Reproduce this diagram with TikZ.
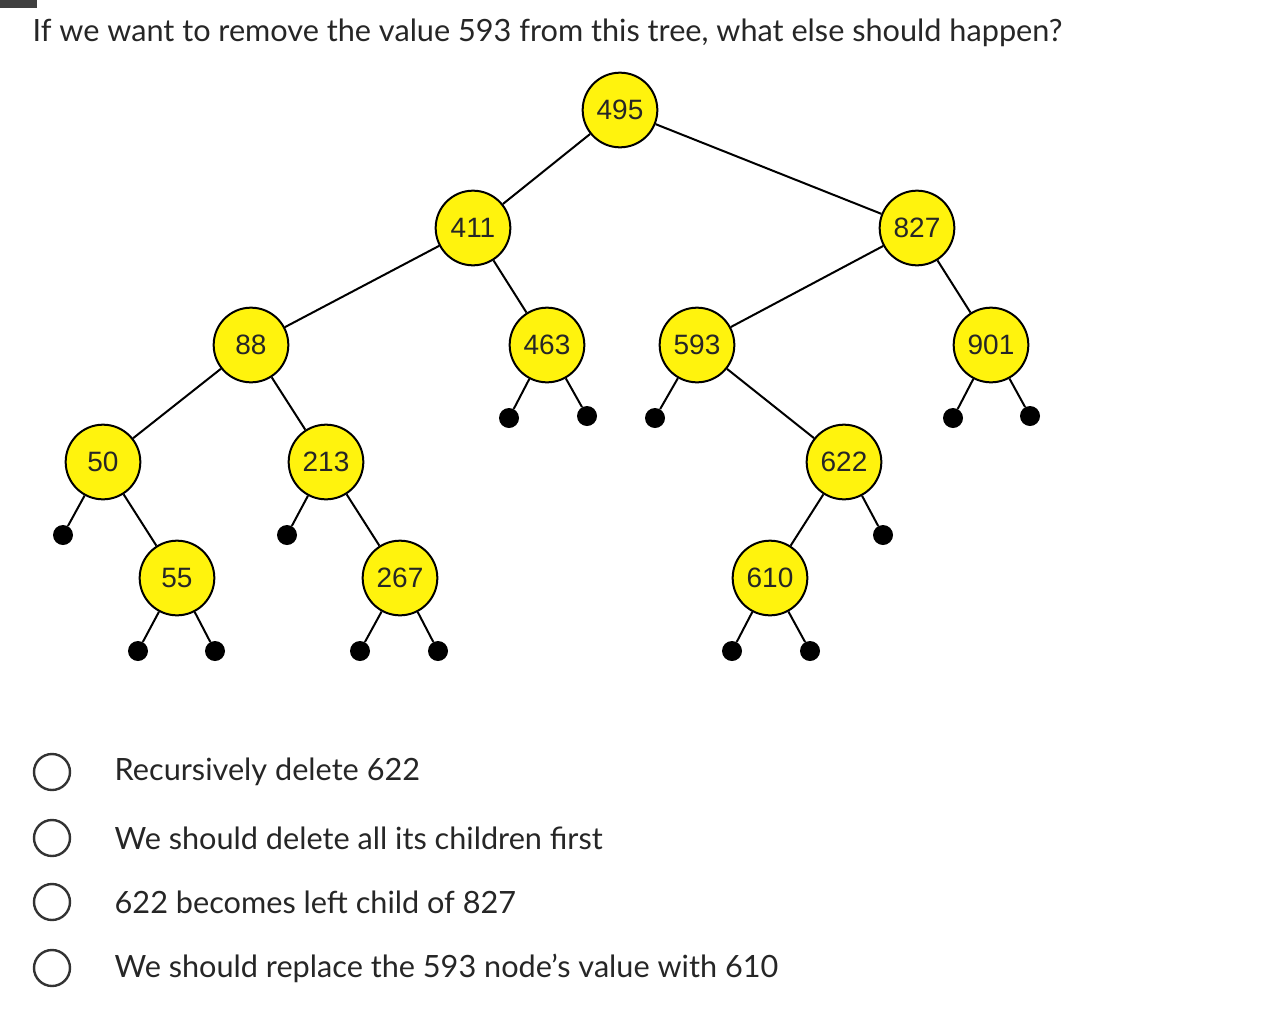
\documentclass[tikz,border=0pt]{standalone}
\usepackage{fontspec}
\setmainfont{Lato}
\newfontfamily\nodefont{Liberation Sans}
\begin{document}
\begin{tikzpicture}[x=0.75pt,y=-0.75pt,
  tn/.style={circle,draw=black,line width=1.5pt,fill=yellow!95!white,minimum size=56pt,inner sep=0pt,font=\nodefont\fontsize{21}{21}\selectfont,text=black!85},
  dot/.style={circle,fill=black,minimum size=15pt,inner sep=0pt},
  ed/.style={line width=1.5pt},
  opt/.style={circle,draw=black!80,line width=1.8pt,minimum size=27pt,inner sep=0pt},
  otext/.style={anchor=west,font=\fontsize{23}{23}\selectfont,text=black!85}]
\useasboundingbox (0,0) rectangle (1264,1018);
\fill[black!75] (0,0) rectangle (37,8);
\node[anchor=west,font=\fontsize{23}{23}\selectfont,text=black!85] (title) at (28,33) {If we want to remove the value 593 from this tree, what else should happen?};
\node[tn] (n495) at (620,110) {495};
\node[tn] (n411) at (473,228) {411};
\node[tn] (n827) at (917,228) {827};
\node[tn] (n88) at (251,345) {88};
\node[tn] (n463) at (547,345) {463};
\node[tn] (n593) at (697,345) {593};
\node[tn] (n901) at (991,345) {901};
\node[tn] (n50) at (103,462) {50};
\node[tn] (n213) at (326,462) {213};
\node[tn] (n622) at (844,462) {622};
\node[tn] (n55) at (177,578) {55};
\node[tn] (n267) at (400,578) {267};
\node[tn] (n610) at (770,578) {610};
\foreach \n/\x/\y in {d1/509/418,d2/587/416,d3/655/418,d4/953/418,d5/1030/416,d6/63/535,d7/287/535,d8/883/535,d9/138/651,d10/215/651,d11/360/651,d12/438/651,d13/732/651,d14/810/651}
  \node[dot] (\n) at (\x,\y) {};
\begin{scope}[on background layer/.try]
\end{scope}
\foreach \a/\b in {n495/n411,n495/n827,n411/n88,n411/n463,n827/n593,n827/n901,n88/n50,n88/n213,n593/n622,n50/n55,n213/n267,n622/n610,n463/d1,n463/d2,n593/d3,n901/d4,n901/d5,n50/d6,n213/d7,n622/d8,n55/d9,n55/d10,n267/d11,n267/d12,n610/d13,n610/d14}
  \draw[ed] (\a) -- (\b);
\foreach \i/\y/\t in {1/772/Recursively delete 622,2/838/We should delete all its children first,3/902/622 becomes left child of 827,4/968/We should replace the 593 node's value with 610}{
  \node[opt] (o\i) at (52,\y) {};
  \node[otext] (t\i) at (110,\y) {\t};
}
\end{tikzpicture}
\end{document}
